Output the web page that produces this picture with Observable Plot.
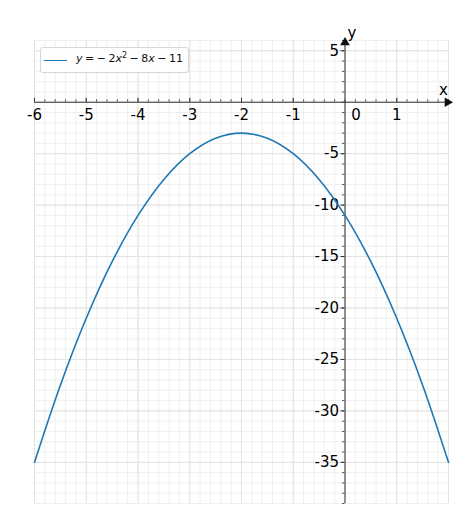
<!DOCTYPE html>
<html>
<head>
<meta charset="utf-8">
<script src="https://cdn.jsdelivr.net/npm/d3@7"></script>
<script src="https://cdn.jsdelivr.net/npm/@observablehq/plot@0.6"></script>
<style>
  html, body { margin: 0; padding: 0; background: #fff; }
  #wrap { position: relative; width: 474px; height: 530px; font-family: "DejaVu Sans", sans-serif; }
  #legend {
    position: absolute; left: 40px; top: 47px; width: 149px; height: 26px;
    box-sizing: border-box; border: 1px solid #d6d6d6; border-radius: 3px;
    background: rgba(255,255,255,0.85);
  }
  #legend .swatch { position: absolute; left: 3px; top: 12px; width: 23px; height: 0; border-top: 1.6px solid #1f77b4; }
  #legend .lbl { position: absolute; left: 35px; top: 4px; font-size: 11px; word-spacing: -1px; color: #111; white-space: nowrap; font-family: "DejaVu Sans", sans-serif; }
  #legend .lbl i { font-style: italic; }
  #legend .lbl sup { font-size: 8px; vertical-align: 4px; line-height: 0; }
  svg text { font-family: "DejaVu Sans", sans-serif; }
</style>
</head>
<body>
<div id="wrap">
  <div id="chart"></div>
  <div id="legend"><span class="swatch"></span><span class="lbl"><i>y</i> = − 2<i>x</i><sup>2</sup> − 8<i>x</i> − 11</span></div>
</div>
<script>
// Curve y = -2x^2 - 8x - 11, values read at x steps of 0.5
const xs = [-6, -5.5, -5, -4.5, -4, -3.5, -3, -2.5, -2, -1.5, -1, -0.5, 0, 0.5, 1, 1.5, 2];
const ys = [-35, -27.5, -21, -15.5, -11, -7.5, -5, -3.5, -3, -3.5, -5, -7.5, -11, -15.5, -21, -27.5, -35];
const curve = xs.map((x, i) => ({x, y: ys[i]}));

// Tick labels
const xTickVals = [-6, -5, -4, -3, -2, -1, 1];
const xZeroLabel = [0];
const yTickVals = [5, -5, -10, -15, -20, -25, -30, -35];

const xDomain = [-6, 2];
const yDomain = [-39, 6];

const xMinor = d3.range(-6, 2.0001, 0.2).map(v => +v.toFixed(2));
const xMajor = d3.range(-6, 3, 1);
const yMinor = d3.range(-39, 7, 1);
const yMajor = d3.range(-35, 6, 5);

const pxPerY = 463 / 45;
const tickMinorLen = 2.5 / pxPerY;
const tickMajorLen = 4 / pxPerY;
const pxPerX = 414 / 8;
const tickMinorLenX = 2.5 / pxPerX;
const tickMajorLenX = 4 / pxPerX;

const axisColor = "#333";
const labelSize = 15;

const chart = Plot.plot({
  width: 474,
  height: 530,
  marginLeft: 34,
  marginRight: 26,
  marginTop: 40,
  marginBottom: 27,
  x: {domain: xDomain, axis: null},
  y: {domain: yDomain, axis: null},
  style: {fontFamily: "DejaVu Sans, sans-serif", background: "white"},
  marks: [
    // grid
    Plot.ruleX(xMinor, {x: d => d, y1: yDomain[0], y2: yDomain[1], stroke: "#ededed", strokeWidth: 0.9}),
    Plot.ruleY(yMinor, {y: d => d, x1: xDomain[0], x2: xDomain[1], stroke: "#ededed", strokeWidth: 0.9}),
    Plot.ruleX(xMajor, {x: d => d, y1: yDomain[0], y2: yDomain[1], stroke: "#e3e3e3", strokeWidth: 1}),
    Plot.ruleY(yMajor, {y: d => d, x1: xDomain[0], x2: xDomain[1], stroke: "#e3e3e3", strokeWidth: 1}),
    // axes
    Plot.ruleY([0], {x1: xDomain[0], x2: xDomain[1], stroke: axisColor, strokeWidth: 1}),
    Plot.ruleX([0], {y1: yDomain[0], y2: yDomain[1], stroke: axisColor, strokeWidth: 1}),
    // x ticks (upward)
    Plot.ruleX(xMinor, {x: d => d, y1: 0, y2: tickMinorLen, stroke: axisColor, strokeWidth: 0.8}),
    Plot.ruleX(xMajor.filter(d => d !== 0 && d < 2), {x: d => d, y1: 0, y2: tickMajorLen, stroke: axisColor, strokeWidth: 1}),
    // y ticks (leftward)
    Plot.ruleY(yMinor, {y: d => d, x1: -tickMinorLenX, x2: 0, stroke: axisColor, strokeWidth: 0.8}),
    Plot.ruleY(yMajor.filter(d => d !== 0), {y: d => d, x1: -tickMajorLenX, x2: 0, stroke: axisColor, strokeWidth: 1}),
    // arrows
    Plot.dot([{x: xDomain[1], y: 0}], {x: "x", y: "y", symbol: "triangle", r: 3.6, fill: "#111", stroke: "none", rotate: 90, dx: -1}),
    Plot.dot([{x: 0, y: yDomain[1]}], {x: "x", y: "y", symbol: "triangle", r: 3.6, fill: "#111", stroke: "none", dy: 2}),
    // tick labels
    Plot.text(xTickVals, {x: d => d, y: 0, text: d => String(d), dy: 13, fontSize: labelSize, fill: "#000"}),
    Plot.text(xZeroLabel, {x: d => d, y: 0, text: d => String(d), dy: 13, dx: 11, fontSize: labelSize, fill: "#000"}),
    Plot.text(yTickVals, {x: 0, y: d => d, text: d => String(d), dx: -6, textAnchor: "end", fontSize: labelSize, fill: "#000"}),
    // axis name labels
    Plot.text(["x"], {x: xDomain[1], y: 0, text: d => d, dx: -5, dy: -12, fontSize: labelSize, fill: "#000"}),
    Plot.text(["y"], {x: 0, y: yDomain[1], text: d => d, dx: 7, dy: -7, fontSize: labelSize, fill: "#000"}),
    // curve
    Plot.line(curve, {x: "x", y: "y", stroke: "#1f77b4", strokeWidth: 1.6, curve: "catmull-rom"})
  ]
});
document.getElementById("chart").appendChild(chart);
</script>
</body>
</html>
